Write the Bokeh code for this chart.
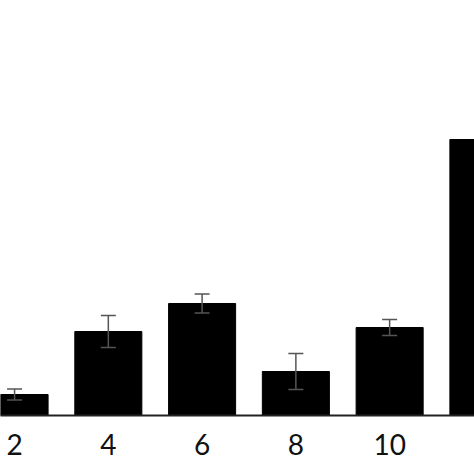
from bokeh.plotting import figure
from bokeh.models import ColumnDataSource, Whisker, Range1d, FixedTicker, Label
from bokeh.embed import file_html
from bokeh.resources import INLINE

# data
categories = [2, 4, 6, 8, 10, 12]
values = [2.1, 8.4, 11.2, 4.4, 8.8, 27.6]
errors = [0.55, 1.6, 0.95, 1.8, 0.8, 0.0]
tick_labels = ["2", "4", "6", "8", "10", "12"]

lower = [v - e for v, e in zip(values, errors)]
upper = [v + e for v, e in zip(values, errors)]
src = ColumnDataSource(dict(x=categories, top=values))
err_src = ColumnDataSource(dict(x=categories[:5], lower=lower[:5], upper=upper[:5]))

p = figure(width=474, height=474, output_backend="svg", toolbar_location=None,
           x_range=Range1d(1.70, 11.81), y_range=Range1d(0, 41.5),
           min_border_left=0, min_border_right=0, min_border_top=0, min_border_bottom=0)
p.outline_line_color = None
p.background_fill_color = "white"
p.border_fill_color = "white"
p.grid.visible = False
p.yaxis.visible = False

p.vbar(x="x", top="top", bottom=0, width=1.43, source=src,
       fill_color="black", line_color="black")

w = Whisker(base="x", lower="lower", upper="upper", source=err_src,
            line_color="#555555", line_width=1.5, level="overlay")
w.upper_head.size = 15
w.lower_head.size = 15
w.upper_head.line_color = "#555555"
w.lower_head.line_color = "#555555"
w.upper_head.line_width = 1.5
w.lower_head.line_width = 1.5
p.add_layout(w)

ax = p.xaxis[0]
ax.ticker = FixedTicker(ticks=categories)
ax.major_label_overrides = {c: t for c, t in zip(categories, tick_labels)}
ax.major_tick_line_color = None
ax.minor_tick_line_color = None
ax.major_tick_out = 0
ax.major_tick_in = 0
ax.axis_line_color = "#222222"
ax.axis_line_width = 2
ax.major_label_standoff = 18
ax.major_label_text_font = "Lato"
ax.major_label_text_font_size = "28px"
ax.major_label_text_color = "#111111"
p.min_border_bottom = 59

lab = Label(x=categories[5], y=-3.2, text=tick_labels[5], text_align="center",
            text_baseline="middle", text_font="Lato", text_font_size="28px",
            text_color="#111111", level="overlay")
p.add_layout(lab)

open("out.html", "w").write(file_html(p, INLINE))
